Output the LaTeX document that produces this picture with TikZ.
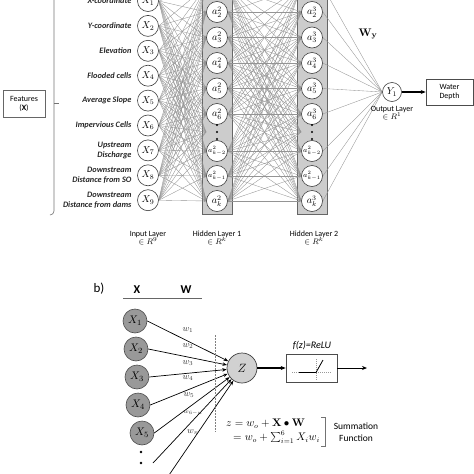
\documentclass[tikz,border=0pt]{standalone}
\usepackage[no-math]{fontspec}
\setmainfont{Carlito}
\usetikzlibrary{arrows.meta,calc}
\pgfdeclarelayer{bg}
\pgfdeclarelayer{mid}
\pgfsetlayers{bg,mid,main}
\begin{document}
\begin{tikzpicture}[x=1pt,y=-1pt,
  neuron/.style={circle,draw=black!75,fill=white,minimum size=21pt,inner sep=0pt,line width=0.6pt,font=\fontsize{10}{10}\selectfont},
  small/.style={font=\fontsize{7.5}{7.5}\selectfont},
  featlab/.style={anchor=east,align=right,font=\fontsize{8.3}{9.5}\selectfont\itshape\bfseries,text=black!85},
  txt/.style={align=center,font=\fontsize{8}{9}\selectfont},
  conn/.style={draw=black!42,line width=0.35pt,-{Stealth[length=2.5pt,width=2pt]}},
  plain/.style={draw=black!42,line width=0.35pt},
  layerbox/.style={draw=black!60,fill=black!20,line width=0.6pt},
  bnode/.style={circle,draw=black!70,fill=black!40,minimum size=24pt,inner sep=0pt,line width=0.6pt,font=\fontsize{11}{11}\selectfont},
  barr/.style={draw=black,line width=0.7pt,-{Stealth[length=4.5pt,width=3.5pt]}},
  thickarr/.style={draw=black,line width=1.3pt,-{Stealth[length=5pt,width=4pt]}},
  wlab/.style={font=\fontsize{9}{9}\selectfont,text=black!80,inner sep=0pt}
]
\useasboundingbox (0,0) rectangle (474,474);

% ---------------- part a ----------------
\foreach \i/\lab in {1/{X-coordinate},2/{Y-coordinate},3/{Elevation},4/{Flooded cells},5/{Average Slope},6/{Impervious Cells},7/{Upstream\\Discharge},8/{Downstream\\Distance from SO},9/{Downstream\\Distance from dams}}{
  \node[neuron] (x\i) at (148,{1+24.9*(\i-1)}) {$X_{\i}$};
  \node[featlab] (fl\i) at (135,{1+24.9*(\i-1)}) {\lab};
}

% hidden layer 1
\foreach \j/\y/\lab in {1/-13.5/{a^2_1},2/12/{a^2_2},3/37.5/{a^2_3},4/63/{a^2_4},5/88.5/{a^2_5},6/114/{a^2_6}}{
  \node[neuron] (h\j) at (217,\y) {$\lab$};
}
\node[neuron,small] (h7) at (217,151) {$a^2_{k-2}$};
\node[neuron,small] (h8) at (217,176) {$a^2_{k-1}$};
\node[neuron] (h9) at (217,201) {$a^2_k$};
\coordinate (d1) at (206,132);

% hidden layer 2
\foreach \j/\y/\lab in {1/-13.5/{a^3_1},2/12/{a^3_2},3/37.5/{a^3_3},4/63/{a^3_4},5/88.5/{a^3_5},6/114/{a^3_6}}{
  \node[neuron] (g\j) at (312,\y) {$\lab$};
}
\node[neuron,small] (g7) at (312,151) {$a^2_{k-2}$};
\node[neuron,small] (g8) at (312,176) {$a^2_{k-1}$};
\node[neuron] (g9) at (312,201) {$a^3_k$};
\coordinate (d2) at (301,132);

% dots
\foreach \xx in {217,312}{
  \foreach \yy in {125,132,139}{
    \fill (\xx,\yy) circle (1.2);
  }
}

% output
\node[neuron,minimum size=19pt] (y1) at (392,92) {$Y_1$};
\node[draw=black!70,line width=0.6pt,minimum width=47pt,minimum height=26pt,txt,inner sep=1pt] (wd) at (449.5,92) {Water\\Depth};
\draw[thickarr] (y1) -- (wd);
\node[txt] (ol) at (392,113) {Output Layer\\[-1pt]$\in R^1$};
\node[font=\fontsize{11}{11}\selectfont] (wy) at (368,34) {$\mathbf{W_y}$};

% bottom labels
\node[txt] (il) at (148,238) {Input Layer\\[-1pt]$\in R^9$};
\node[txt] (hl1) at (217,238) {Hidden Layer 1\\[-1pt]$\in R^k$};
\node[txt] (hl2) at (314,238) {Hidden Layer 2\\[-1pt]$\in R^k$};

% features box and bracket
\node[draw=black!60,line width=0.7pt,minimum width=42pt,minimum height=27pt,txt,inner sep=1pt] (feat) at (24,103.5) {Features\\(\textbf{X})};
\draw[black!55,line width=0.6pt] (54,-5) -- (54,211) to[out=-90,in=0] (50,215);
\draw[black!55,line width=0.6pt] (54,103.5) -- (59,103.5);

\begin{pgfonlayer}{bg}
  \draw[layerbox] (202,-30) rectangle (232,214);
  \draw[layerbox] (297,-30) rectangle (327,214);
\end{pgfonlayer}

\begin{pgfonlayer}{mid}
  \foreach \i in {1,...,9}{
    \foreach \j in {1,...,9}{
      \draw[conn] (x\i.east) -- (h\j.west);
      \draw[conn] (h\i.east) -- (g\j.west);
    }
    \draw[plain] (x\i.east) -- (d1);
    \draw[plain] (h\i.east) -- (d2);
    \draw[plain] (g\i.east) -- (y1.west);
  }
\end{pgfonlayer}

% ---------------- part b ----------------
\node[font=\fontsize{13}{13}\selectfont] (blab) at (99,289) {b)};
\node[font=\fontsize{12}{12}\selectfont\bfseries] (bx) at (137,290) {X};
\node[font=\fontsize{12}{12}\selectfont\bfseries] (bw) at (186,290) {W};
\draw[black!60,line width=0.8pt] (123,298.5) -- (202,298.5);

\node[bnode] (b1) at (135,321) {$X_1$};
\node[bnode] (b2) at (136,349) {$X_2$};
\node[bnode] (b3) at (137,377) {$X_3$};
\node[bnode] (b4) at (138,405) {$X_4$};
\node[bnode] (b5) at (142,433) {$X_5$};
\foreach \yy in {452,463}{ \fill (141,\yy) circle (1.3); }
\coordinate (c1) at (153,463);
\coordinate (c2) at (167,478);

\node[circle,draw=black!75,fill=black!18,minimum size=30pt,inner sep=0pt,line width=0.7pt,font=\fontsize{12}{12}\selectfont] (z) at (242,368) {$Z$};

\foreach \s in {b1,b2,b3,b4,b5}{
  \draw[barr] (\s.east) -- (z);
}
\draw[barr] (c1) -- (z);
\draw[barr] (c2) -- (z);

\node[wlab] (w1) at (188,330) {$w_1$};
\node[wlab] (w2) at (188,346) {$w_2$};
\node[wlab] (w3) at (188,363) {$w_3$};
\node[wlab] (w4) at (188,378) {$w_4$};
\node[wlab] (w5) at (189,395) {$w_5$};
\node[wlab,font=\fontsize{6}{6}\selectfont] (w6) at (193,413) {$w_{6-n}$};
\node[wlab] (wn) at (193,432) {$w_n$};

\draw[black!50,line width=0.6pt,dash pattern=on 1.5pt off 1.5pt] (215,335) -- (215,432);

% activation
\node[draw=black!70,fill=white,line width=0.7pt,minimum width=51pt,minimum height=28pt] (relu) at (311.5,368) {};
\node[font=\fontsize{10}{10}\selectfont\itshape] (fz) at (312,346) {f(z)=ReLU};
\draw[black!40,line width=0.4pt,dash pattern=on 1pt off 1pt] (292,372.5) -- (332,372.5);
\draw[black!40,line width=0.4pt,dash pattern=on 1pt off 1pt] (316,359) -- (316,381);
\draw[black,line width=0.8pt] (299,372.5) -- (316,372.5) -- (323,360);
\draw[thickarr] (z) -- (relu);
\coordinate (outp) at (367,368);
\draw[thickarr,line width=1pt] (relu) -- (outp);

% equations
\node[anchor=west,font=\fontsize{10.5}{11}\selectfont,inner sep=0pt] (eq1) at (226,424) {$z = w_o + \mathbf{X} \bullet \mathbf{W}$};
\node[anchor=west,font=\fontsize{10.5}{11}\selectfont,inner sep=0pt] (eq2) at (233,437) {$= w_o + \textstyle\sum_{i=1}^{6} X_i w_i$};
\draw[black!55,line width=0.6pt] (321,417) -- (325,417) -- (325,446) -- (321,446);
\node[txt,font=\fontsize{9.5}{11.5}\selectfont] (sf) at (356,432) {Summation\\Function};

\end{tikzpicture}
\end{document}
